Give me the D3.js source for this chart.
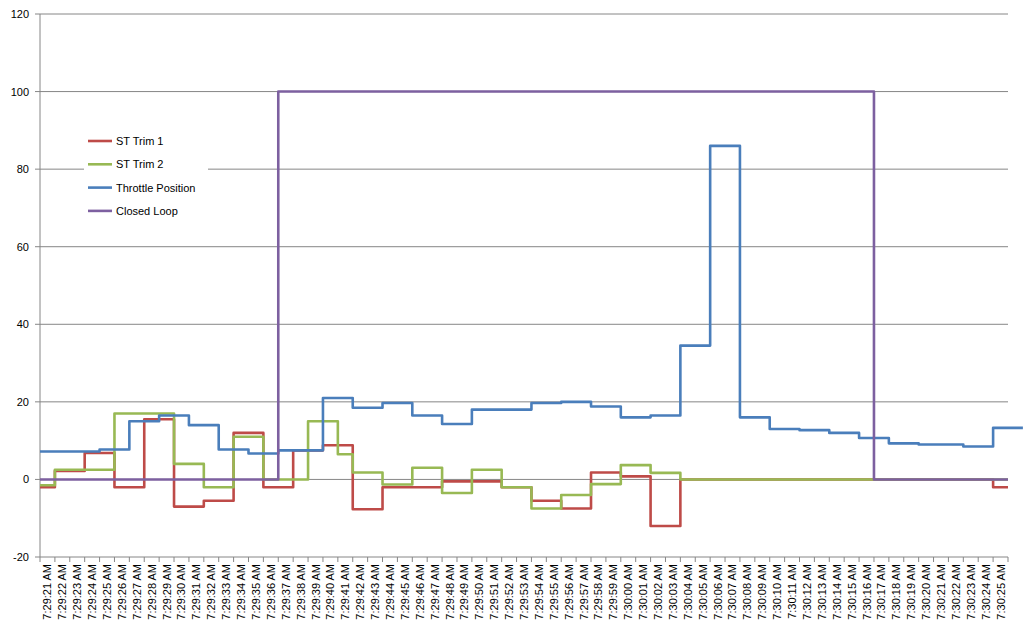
<!DOCTYPE html>
<html><head><meta charset="utf-8">
<script src="https://cdn.jsdelivr.net/npm/d3@7"></script>
<style>body{margin:0;background:#fff}</style></head><body>
<svg id="c" width="1024" height="633"></svg>
<script>
function runs(spec){const a=[];spec.forEach(([n,v])=>{for(let k=0;k<n;k++)a.push(v);});return a;}
const labels=[];for(let s=0;s<65;s++){const t=21+s;const m=t>=60?30:29;const ss=t%60;labels.push("7:"+m+":"+String(ss).padStart(2,"0")+" AM");}
const trim1=runs([[1,-2],[2,2.2],[2,6.8],[2,-2],[2,15.5],[2,-7],[2,-5.5],[2,12],[2,-2],[2,7.5],[2,8.8],[2,-7.7],[4,-2],[4,-0.5],[2,-2],[2,-5.5],[2,-7.5],[2,1.8],[2,0.8],[2,-12],[21,0],[1,-2]]);
const trim2=runs([[1,-1.5],[4,2.5],[4,17],[2,4],[2,-2],[2,11],[3,0],[2,15],[1,6.5],[2,1.8],[2,-1.3],[2,3],[2,-3.5],[2,2.5],[2,-2],[2,-7.5],[2,-4],[2,-1.2],[2,3.7],[2,1.7],[22,0]]);
const throttle=runs([[4,7.2],[2,7.7],[2,15],[2,16.5],[2,14],[2,7.7],[2,6.7],[3,7.5],[2,21],[2,18.5],[2,19.7],[2,16.5],[2,14.3],[4,18],[2,19.7],[2,20],[2,18.8],[2,16],[2,16.5],[2,34.5],[2,86],[2,16],[2,13],[2,12.7],[2,12],[2,10.7],[2,9.3],[3,9],[2,8.5],[2,13.3]]);
const closed=runs([[16,0],[40,100],[9,0]]);
const yTicks=[-20,0,20,40,60,80,100,120];
const series=[["ST Trim 1",trim1,"#be4b48"],["ST Trim 2",trim2,"#98b954"],["Throttle Position",throttle,"#4a7ebb"],["Closed Loop",closed,"#7d60a0"]];

const svg=d3.select("#c");
const x=d3.scaleBand().domain(labels).range([40,1008]);
const xi=d3.scaleLinear().domain([0,labels.length]).range([40,1008]);
const y=d3.scaleLinear().domain([-20,120]).range([557,14]);
const g=svg.append("g");
g.selectAll("line.g").data(yTicks).join("line").attr("x1",40).attr("x2",1008).attr("y1",d=>y(d)).attr("y2",d=>y(d)).attr("stroke","#868686").attr("stroke-width",1);
g.append("line").attr("x1",40).attr("x2",40).attr("y1",14).attr("y2",557).attr("stroke","#868686");
g.selectAll("line.t").data(labels).join("line").attr("x1",d=>x(d)).attr("x2",d=>x(d)).attr("y1",557).attr("y2",562).attr("stroke","#868686");
g.append("line").attr("x1",1008).attr("x2",1008).attr("y1",557).attr("y2",562).attr("stroke","#868686");
g.selectAll("line.yt").data(yTicks).join("line").attr("x1",35).attr("x2",40).attr("y1",d=>y(d)).attr("y2",d=>y(d)).attr("stroke","#868686");
g.selectAll("text.y").data(yTicks).join("text").attr("x",29).attr("y",d=>y(d)+4).attr("text-anchor","end").attr("font-family","Liberation Sans, Arial").attr("font-size",11).attr("fill","#000").text(d=>d);
g.selectAll("text.x").data(labels).join("text").attr("transform",d=>`translate(${x(d)+x.bandwidth()/2+4},564) rotate(-90)`).attr("text-anchor","end").attr("font-family","Liberation Sans, Arial").attr("font-size",11).attr("fill","#000").text(d=>d);
const line=d3.line().x(d=>xi(d[0])).y(d=>y(d[1])).curve(d3.curveStepAfter);
series.forEach(([n,vals,c])=>{const pts=vals.map((v,i)=>[i,v]);pts.push([vals.length,vals[vals.length-1]]);
svg.append("path").attr("d",line(pts)).attr("fill","none").attr("stroke",c).attr("stroke-width",2.6).attr("stroke-linejoin","round");});
const lg=svg.append("g");
lg.append("rect").attr("x",84).attr("y",128).attr("width",124).attr("height",94).attr("fill","#fff");
series.forEach(([n,v,c],i)=>{const yy=141+i*23.3;
lg.append("line").attr("x1",88).attr("x2",112).attr("y1",yy).attr("y2",yy).attr("stroke",c).attr("stroke-width",2.6);
lg.append("text").attr("x",116).attr("y",yy+4).attr("font-family","Liberation Sans, Arial").attr("font-size",11).text(n);});
</script></body></html>
